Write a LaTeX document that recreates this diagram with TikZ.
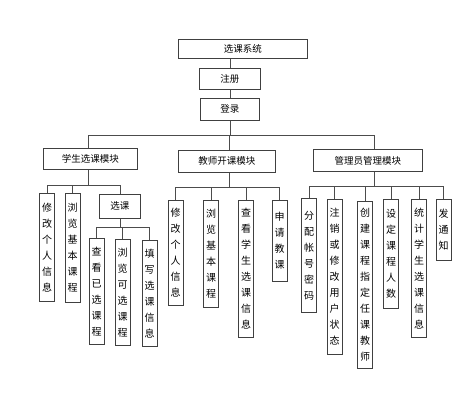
\documentclass[tikz,border=0pt]{standalone}
\usepackage{fontspec}
\newfontfamily\cjk{Noto Sans CJK SC}
\begin{document}
\begin{tikzpicture}[x=1pt,y=-1pt,
  box/.style={draw=black!75, line width=0.8pt, fill=white, font=\cjk\fontsize{9.5}{11}\selectfont, inner sep=0pt, anchor=north west},
  leaf/.style={draw=black!75, line width=0.8pt, fill=white, font=\cjk\fontsize{10}{16}\selectfont, align=center, minimum width=15pt, inner sep=0pt, anchor=north},
  ln/.style={draw=black!70, line width=0.8pt}]
\fill[white] (0,0) rectangle (474,402);
\useasboundingbox (0,0) rectangle (474,402);

% top chain
\node[box, minimum width=129pt, minimum height=19pt] (sys) at (178,39) {选课系统\hspace{26pt}};
\node[box, minimum width=61pt, minimum height=21pt] (reg) at (199,68) {注册};
\node[box, minimum width=59pt, minimum height=22pt] (login) at (200,98) {登录};

% modules
\node[box, minimum width=94pt, minimum height=21pt] (stu) at (43,148) {学生选课模块};
\node[box, minimum width=97pt, minimum height=22pt] (tea) at (178,150) {教师开课模块};
\node[box, minimum width=109pt, minimum height=22pt] (adm) at (313,149) {管理员管理模块\hspace{10pt}};

% student leaves
\node[leaf, minimum height=108pt] (s1) at (47,193) {修\\改\\个\\人\\信\\息};
\node[leaf, minimum height=109pt] (s2) at (72.5,193) {浏\\览\\基\\本\\课\\程};
\node[box, minimum width=41pt, minimum height=24pt] (xk) at (99,194) {选课};
\node[leaf, minimum height=106pt] (s3) at (96.5,238) {查\\看\\已\\选\\课\\程};
\node[leaf, minimum height=106pt] (s4) at (122.5,239) {浏\\览\\可\\选\\课\\程};
\node[leaf, minimum height=106pt] (s5) at (149.5,240) {填\\写\\选\\课\\信\\息};

% teacher leaves
\node[leaf, minimum height=105pt] (t1) at (175.5,200) {修\\改\\个\\人\\信\\息};
\node[leaf, minimum height=107pt] (t2) at (211,200) {浏\\览\\基\\本\\课\\程};
\node[leaf, minimum height=137pt] (t3) at (246,200) {查\\看\\学\\生\\选\\课\\信\\息};
\node[leaf, minimum height=81pt] (t4) at (279.5,200) {申\\请\\教\\课};

% admin leaves
\node[leaf, minimum height=114pt] (a1) at (309,198) {分\\配\\帐\\号\\密\\码};
\node[leaf, minimum height=155pt] (a2) at (334.5,199) {注\\销\\或\\修\\改\\用\\户\\状\\态};
\node[leaf, minimum height=167pt] (a3) at (365,201) {创\\建\\课\\程\\指\\定\\任\\课\\教\\师};
\node[leaf, minimum height=109pt] (a4) at (391,199) {设\\定\\课\\程\\人\\数};
\node[leaf, minimum height=138pt] (a5) at (419,199) {统\\计\\学\\生\\选\\课\\信\\息};
\node[leaf, minimum height=61pt] (a6) at (443.5,199) {发\\通\\知};

% bus coordinates
\coordinate (topx) at (230,0);
\coordinate (mb) at (0,135);
\coordinate (sb) at (0,185);
\coordinate (xb) at (0,227);
\coordinate (tb) at (0,187);
\coordinate (ab) at (0,186);
\coordinate (sx) at (88,0);
\coordinate (xx) at (120,0);
\coordinate (tx) at (229,0);
\coordinate (ax) at (374,0);

% top chain connectors
\draw[ln] (sys.south -| topx) -- (reg.north -| topx);
\draw[ln] (reg.south -| topx) -- (login.north -| topx);
\draw[ln] (login.south -| topx) -- (topx |- mb);
\draw[ln] (sx |- mb) -- (ax |- mb);
\draw[ln] (sx |- mb) -- (sx |- stu.north);
\draw[ln] (tx |- mb) -- (tx |- tea.north);
\draw[ln] (ax |- mb) -- (ax |- adm.north);

% student
\draw[ln] (sx |- stu.south) -- (sx |- sb);
\draw[ln] (s1.north |- sb) -- (xx |- sb);
\foreach \n in {s1,s2} \draw[ln] (\n.north |- sb) -- (\n.north);
\draw[ln] (xx |- sb) -- (xx |- xk.north);
\draw[ln] (xx |- xk.south) -- (xx |- xb);
\draw[ln] (s3.north |- xb) -- (s5.north |- xb);
\foreach \n in {s3,s4,s5} \draw[ln] (\n.north |- xb) -- (\n.north);

% teacher
\draw[ln] (tx |- tea.south) -- (tx |- tb);
\draw[ln] (t1.north |- tb) -- (t4.north |- tb);
\foreach \n in {t1,t2,t3,t4} \draw[ln] (\n.north |- tb) -- (\n.north);

% admin
\draw[ln] (ax |- adm.south) -- (ax |- ab);
\draw[ln] (a1.north |- ab) -- (a6.north |- ab);
\foreach \n in {a1,a2,a3,a4,a5,a6} \draw[ln] (\n.north |- ab) -- (\n.north);
\end{tikzpicture}
\end{document}
